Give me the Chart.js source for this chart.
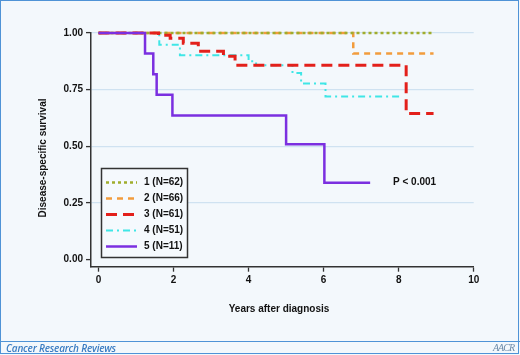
<!DOCTYPE html>
<html>
<head>
<meta charset="utf-8">
<script src="https://cdn.jsdelivr.net/npm/chart.js@4.4.1/dist/chart.umd.min.js"></script>
<style>
  html, body { margin: 0; padding: 0; }
  body { width: 520px; height: 355px; position: relative; background: #f3f8fc; overflow: hidden; font-family: "Liberation Sans", Arial, sans-serif; }
  #wrap { position: absolute; left: 0; top: 0; width: 520px; height: 355px; }
  #frame { position: absolute; left: 0; top: 0; width: 517px; height: 352px; border: 1.5px solid #4f93d6; pointer-events: none; }
  #footline { position: absolute; left: 0; top: 341px; width: 520px; height: 0; border-top: 1.5px solid #4f93d6; }
  #journal { position: absolute; left: 6px; top: 342px; line-height: 12px; font-style: italic; font-weight: 600; font-size: 10px; color: #3a7cc2; font-family: "Open Sans", "Liberation Sans", sans-serif; letter-spacing: -0.2px; }
  #logo { position: absolute; right: 6px; top: 342px; line-height: 12px; font-style: italic; font-size: 10px; color: #6c8aa8; font-family: "Liberation Serif", serif; letter-spacing: -1px; }
</style>
</head>
<body>
<div id="wrap"><canvas id="c" width="520" height="355"></canvas></div>
<div id="footline"></div>
<div id="journal">Cancer Research Reviews</div>
<div id="logo">AACR</div>
<div id="frame"></div>
<script>
// ---- data (years, survival) ----
const seriesLabels = ["1 (N=62)", "2 (N=66)", "3 (N=61)", "4 (N=51)", "5 (N=11)"];
const group1 = [[0, 1.0], [8.93, 1.0]];
const group2 = [[0, 1.0], [6.79, 0.910], [8.93, 0.910]];
const group3 = [[0, 1.0], [1.6, 0.990], [1.91, 0.977], [2.26, 0.955], [2.66, 0.919], [3.33, 0.897], [3.64, 0.858], [8.2, 0.645], [8.93, 0.645]];
const group4 = [[0, 1.0], [1.62, 0.948], [2.17, 0.902], [4.0, 0.875], [4.2, 0.858], [5.17, 0.823], [5.4, 0.777], [6.05, 0.720], [8.1, 0.720]];
const group5 = [[0, 1.0], [1.24, 0.909], [1.46, 0.818], [1.55, 0.727], [1.97, 0.636], [5.0, 0.509], [6.02, 0.339], [7.24, 0.339]];
const xTickValues = [0, 2, 4, 6, 8, 10];
const yTickValues = [0, 0.25, 0.5, 0.75, 1.0];
const xTitle = "Years after diagnosis";
const yTitle = "Disease-specific survival";
const pValueText = "P < 0.001";

const styles = [
  { color: "#a0ad2c", dash: [3, 3], width: 2.5, order: 3 },
  { color: "#f29c3c", dash: [6, 5], width: 2.5, order: 4 },
  { color: "#e3201b", dash: [11, 6], width: 3, order: 1 },
  { color: "#3fe6e6", dash: [7, 4, 2, 4], width: 2, order: 2 },
  { color: "#7b2fe0", dash: [], width: 2.5, order: 0 }
];
const groups = [group1, group2, group3, group4, group5];

const datasets = groups.map((g, i) => ({
  label: seriesLabels[i],
  data: g.map(p => ({ x: p[0], y: p[1] })),
  borderColor: styles[i].color,
  borderDash: styles[i].dash,
  borderWidth: styles[i].width,
  order: styles[i].order,
  stepped: true,
  pointRadius: 0,
  fill: false,
  clip: false,
  tension: 0
}));
const FONT = "'Liberation Sans', Arial, sans-serif";

const overlayPlugin = {
  id: "overlay",
  afterDatasetsDraw(chart) {
    const ctx = chart.ctx;
    ctx.save();
    // legend box
    const bx = 101.5, by = 168.5, bw = 86, bh = 89;
    ctx.fillStyle = "#f5f9fd";
    ctx.fillRect(bx, by, bw, bh);
    ctx.strokeStyle = "#333";
    ctx.lineWidth = 1.5;
    ctx.setLineDash([]);
    ctx.strokeRect(bx, by, bw, bh);
    chart.data.datasets.forEach((ds, i) => {
      const yy = 182.5 + i * 16;
      ctx.beginPath();
      ctx.strokeStyle = ds.borderColor;
      ctx.lineWidth = ds.borderWidth;
      ctx.setLineDash(ds.borderDash);
      ctx.moveTo(106, yy);
      ctx.lineTo(137, yy);
      ctx.stroke();
      ctx.setLineDash([]);
      ctx.fillStyle = "#111";
      ctx.font = "bold 10px " + FONT;
      ctx.textBaseline = "middle";
      ctx.textAlign = "left";
      ctx.fillText(ds.label, 144, yy);
    });
    ctx.fillStyle = "#111";
    ctx.font = "bold 10px " + FONT;
    ctx.textBaseline = "middle";
    ctx.textAlign = "left";
    ctx.fillText(pValueText, 393, 182.5);
    // axis titles
    ctx.textAlign = "center";
    ctx.fillText(xTitle, 279, 309);
    ctx.translate(43, 158);
    ctx.rotate(-Math.PI / 2);
    ctx.fillText(yTitle, 0, 0);
    ctx.restore();
  }
};

new Chart(document.getElementById("c"), {
  type: "line",
  data: { datasets },
  options: {
    responsive: false,
    animation: false,
    devicePixelRatio: 1,
    layout: { padding: { top: 33, right: 46.3, bottom: 0, left: 0 } },
    plugins: { legend: { display: false }, tooltip: { enabled: false } },
    scales: {
      x: {
        type: "linear",
        min: -0.2,
        max: 10,
        afterBuildTicks: s => { s.ticks = xTickValues.map(v => ({ value: v })); },
        afterFit: s => { s.height = 88.3; },
        ticks: { color: "#111", font: { family: FONT, size: 10, weight: "bold" }, padding: 3, maxRotation: 0, autoSkip: false, callback: v => String(v) },
        grid: { drawOnChartArea: false, drawTicks: true, tickLength: 5, tickColor: "#333", tickWidth: 1.3 },
        border: { display: true, color: "#333", width: 1.5 },
        title: { display: false }
      },
      y: {
        type: "linear",
        min: -0.0322,
        max: 1.0,
        afterBuildTicks: s => { s.ticks = yTickValues.map(v => ({ value: v })); },
        afterFit: s => { s.width = 91; },
        ticks: { color: "#111", font: { family: FONT, size: 10, weight: "bold" }, padding: 3, autoSkip: false, callback: v => Number(v).toFixed(2) },
        grid: {
          drawOnChartArea: true, drawTicks: true, tickLength: 5,
          color: c => (c.tick && c.tick.value === 0) ? "rgba(0,0,0,0)" : "#cfe2f1",
          lineWidth: 1.2,
          tickColor: "#333", tickWidth: 1.3
        },
        border: { display: true, color: "#333", width: 1.5 },
        title: { display: false }
      }
    }
  },
  plugins: [overlayPlugin]
});
</script>
</body>
</html>
